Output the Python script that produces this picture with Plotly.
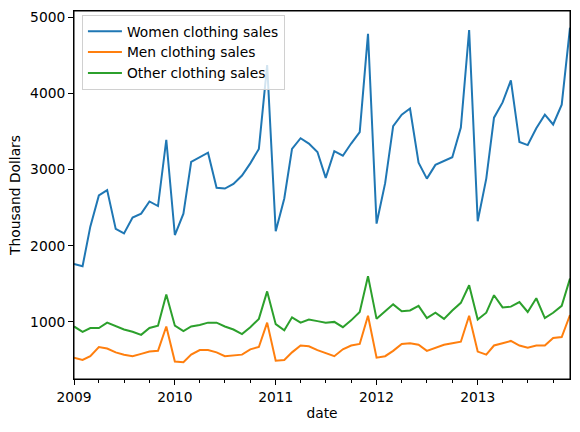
import pandas as pd
import plotly.graph_objects as go

dates = pd.date_range("2009-01-01", "2013-12-01", freq="MS")

women = [1760, 1730, 2250, 2660, 2730, 2220, 2160, 2370, 2420, 2580, 2520, 3390,
         2140, 2420, 3100, 3160, 3220, 2760, 2750, 2810, 2920, 3080, 3270, 4370,
         2190, 2620, 3270, 3410, 3340, 3230, 2890, 3240, 3180, 3340, 3490, 4780,
         2290, 2820, 3570, 3720, 3800, 3090, 2880, 3060, 3110, 3160, 3550, 4830,
         2320, 2880, 3680, 3880, 4170, 3360, 3320, 3540, 3720, 3590, 3850, 4860]
men = [530, 500, 550, 670, 650, 600, 570, 550, 580, 610, 620, 940,
       480, 470, 570, 630, 630, 600, 550, 560, 570, 640, 670, 990,
       490, 500, 600, 690, 680, 630, 590, 550, 640, 690, 710, 1080,
       530, 550, 620, 710, 720, 700, 620, 660, 700, 720, 740, 1080,
       610, 570, 690, 720, 750, 690, 660, 690, 690, 790, 800, 1090]
other = [940, 870, 920, 920, 990, 940, 900, 870, 830, 920, 950, 1360,
         950, 880, 940, 960, 990, 990, 940, 900, 840, 930, 1040, 1400,
         970, 890, 1060, 990, 1030, 1010, 990, 1000, 930, 1020, 1130, 1600,
         1040, 1140, 1230, 1140, 1150, 1210, 1050, 1120, 1040, 1150, 1250, 1480,
         1030, 1120, 1350, 1190, 1200, 1260, 1130, 1310, 1050, 1120, 1210, 1570]

series = [("Women clothing sales", women, "#1f77b4"),
          ("Men clothing sales", men, "#ff7f0e"),
          ("Other clothing sales", other, "#2ca02c")]

FS = 13.8

fig = go.Figure()
for name, vals, col in series:
    fig.add_trace(go.Scatter(x=dates, y=vals, mode="lines", name=name,
                             line=dict(color=col, width=2)))

lo = min(min(women), min(men), min(other))
hi = max(max(women), max(men), max(other))
pad = (hi - lo) * 0.05

axis_style = dict(showline=True, linecolor="black", linewidth=1, mirror=True,
                  showgrid=False, zeroline=False, ticks="outside", ticklen=5,
                  tickcolor="black", tickfont=dict(size=FS, color="black"))

fig.update_layout(
    width=580, height=432,
    margin=dict(l=74, r=10, t=9, b=53),
    paper_bgcolor="white", plot_bgcolor="white",
    font=dict(family="DejaVu Sans", size=FS, color="black"),
    legend=dict(x=0.016, y=0.99, xanchor="left", yanchor="top",
                bordercolor="#d0d0d0", borderwidth=1, bgcolor="rgba(255,255,255,0.8)",
                font=dict(size=FS), itemwidth=34, tracegroupgap=0),
    # frame around the plot area (top/right edges)
    shapes=[dict(type="rect", xref="paper", yref="paper", x0=0, y0=0, x1=1, y1=1,
                 line=dict(color="black", width=1), layer="above")],
)
fig.update_xaxes(axis_style, title=dict(text="date", standoff=4, font=dict(size=FS)),
                 range=[dates[0], dates[-1]], dtick="M12", tickformat="%Y",
                 minor=dict(dtick="M3", ticks="outside", ticklen=3, tickcolor="black"))
fig.update_yaxes(axis_style, title=dict(text="Thousand Dollars", standoff=6, font=dict(size=FS)),
                 range=[lo - pad, hi + pad], tickvals=[1000, 2000, 3000, 4000, 5000])

fig.write_html("out.html", config={"displayModeBar": False},
               post_script="document.body.style.margin='0';")
